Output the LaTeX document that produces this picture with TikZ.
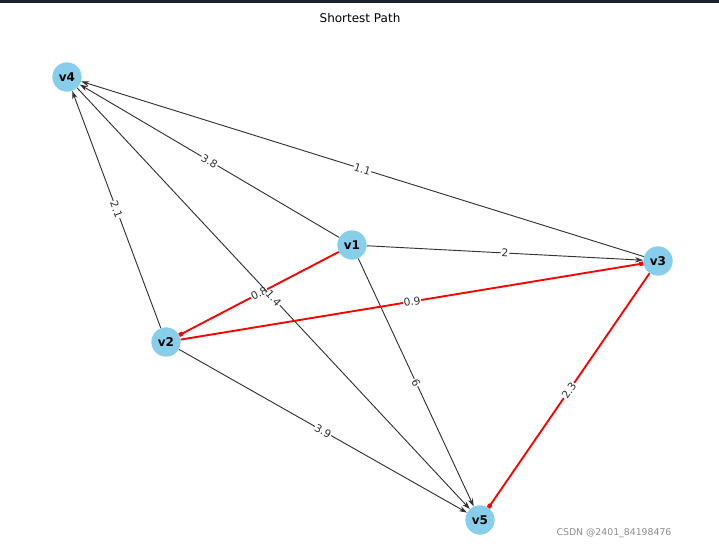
\documentclass[tikz,border=0pt]{standalone}
\usepackage{fontspec}
\setmainfont{DejaVu Sans}
\usetikzlibrary{arrows.meta}
\definecolor{sky}{RGB}{135,206,235}
\definecolor{bar}{RGB}{26,35,50}
\begin{document}
\begin{tikzpicture}[x=0.75pt,y=-0.75pt,
  v/.style={circle,fill=sky,minimum size=22pt,inner sep=0pt,font=\bfseries\small},
  e/.style={draw=black!80,line width=0.7pt,-{Stealth[length=6pt,width=4pt]}},
  r/.style={draw=red,line width=1.4pt,-{Square[length=3pt,width=3pt]}},
  lab/.style={midway,sloped,fill=white,inner sep=0.5pt,font=\footnotesize,text=black!80}]
\useasboundingbox (0,0) rectangle (719,546);
\fill[bar] (0,0) rectangle (719,3);
\node[font=\small] (t) at (360,18) {Shortest Path};
\node[v] (v4) at (67,77) {v4};
\node[v] (v1) at (352,245) {v1};
\node[v] (v3) at (658,261) {v3};
\node[v] (v2) at (166,342) {v2};
\node[v] (v5) at (480,520) {v5};
\draw[e] (v1) -- node[lab]{3.8} (v4);
\draw[e] (v3) -- node[lab]{1.1} (v4);
\draw[e] (v2) -- node[lab]{2.1} (v4);
\draw[e] (v1) -- node[lab]{2} (v3);
\draw[e] (v1) -- node[lab]{6} (v5);
\draw[e] (v2) -- node[lab]{3.9} (v5);
\draw[r] (v1) -- node[lab]{0.8} (v2);
\draw[e] (v4) -- node[lab]{1.4} (v5);
\draw[r] (v2) -- node[lab]{0.9} (v3);
\draw[r] (v3) -- node[lab]{2.3} (v5);
\node[font=\scriptsize,text=black!45] (c) at (614,533) {CSDN @2401\_84198476};
\end{tikzpicture}
\end{document}
